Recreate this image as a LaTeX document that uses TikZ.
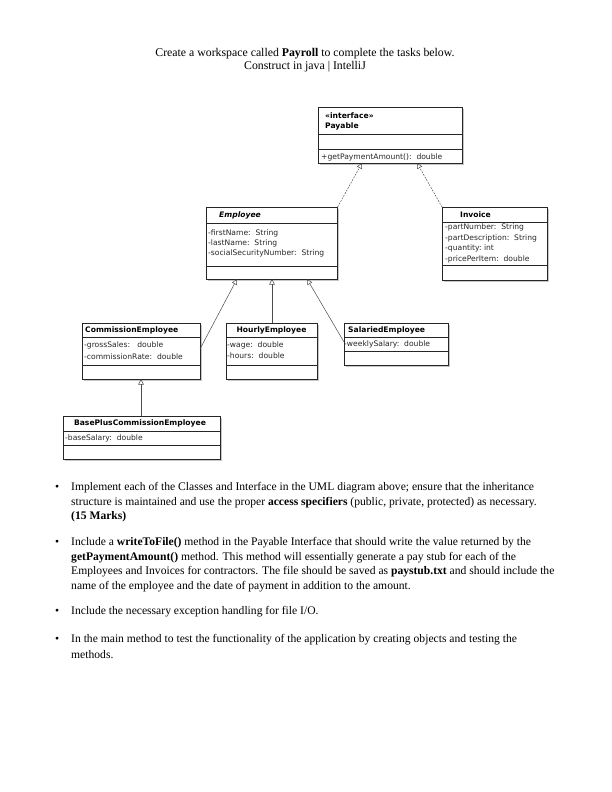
\documentclass[tikz,border=0pt]{standalone}
\usepackage{fontspec}
\setmainfont{Liberation Serif}
\newfontfamily\umlfont{DejaVu Sans}
\usetikzlibrary{arrows.meta}
\tikzset{
  umlbox/.style={draw=black!85, line width=0.6pt, fill=white, inner sep=0pt, anchor=north west},
  sepline/.style={draw=black!85, line width=0.6pt},
  umltxt/.style={font=\umlfont\fontsize{7.6}{8}\selectfont, anchor=west, inner sep=0pt, text=black!85},
  umlname/.style={font=\umlfont\bfseries\fontsize{7.6}{8}\selectfont, anchor=west, inner sep=0pt},
  inherit/.style={draw=black!70, line width=0.5pt, -{Triangle[open, length=5.5pt, width=5.5pt]}},
  realize/.style={inherit, dash pattern=on 1.8pt off 1.2pt},
  para/.style={font=\fontsize{11.6}{13}\selectfont, anchor=west, inner sep=0pt},
  head/.style={font=\fontsize{11.8}{13}\selectfont, inner sep=0pt},
}
\begin{document}
\begin{tikzpicture}[x=1pt,y=-1pt]
\useasboundingbox (0,0) rectangle (612,792);
\fill[white] (0,0) rectangle (612,792);

% heading
\node[head] (h1) at (305,54) {Create a workspace called \textbf{Payroll} to complete the tasks below.};
\node[head] (h2) at (305,67) {Construct in java | IntelliJ};

% Payable
\fill[black!22] (320,109) rectangle (464,165);
\node[umlbox, minimum width=144pt, minimum height=56pt] (payable) at (318,107) {};
\draw[sepline] (318,134) -- (462,134);
\draw[sepline] (318,149) -- (462,149);
\node[umlname] (payst) at (325,116) {«interface»};
\node[umlname] (payname) at (325,126) {Payable};
\node[umltxt] (paym) at (321,157) {+getPaymentAmount():\ \ double};

% Employee
\fill[black!22] (208,209) rectangle (339,281);
\node[umlbox, minimum width=131pt, minimum height=72pt] (employee) at (206,207) {};
\draw[sepline] (206,223) -- (337,223);
\draw[sepline] (206,266) -- (337,266);
\node[umlname, font=\umlfont\bfseries\itshape\fontsize{7.6}{8}\selectfont] (empname) at (219,215) {Employee};
\node[umltxt] (e1) at (208,233) {-firstName:\ \ String};
\node[umltxt] (e2) at (208,243) {-lastName:\ \ String};
\node[umltxt] (e3) at (208,253) {-socialSecurityNumber:\ \ String};

% Invoice
\fill[black!22] (444,209) rectangle (549,282);
\node[umlbox, minimum width=105pt, minimum height=73pt] (invoice) at (442,207) {};
\draw[sepline] (442,222) -- (547,222);
\draw[sepline] (442,265) -- (547,265);
\node[umlname] (invname) at (460,215) {Invoice};
\node[umltxt] (i1) at (445,227) {-partNumber:\ \ String};
\node[umltxt] (i2) at (445,238) {-partDescription:\ \ String};
\node[umltxt] (i3) at (445,248) {-quantity:\ int};
\node[umltxt] (i4) at (445,259) {-pricePerItem:\ \ double};

% CommissionEmployee
\fill[black!22] (84,325) rectangle (202,381);
\node[umlbox, minimum width=118pt, minimum height=56pt] (commission) at (82,323) {};
\draw[sepline] (82,337) -- (200,337);
\draw[sepline] (82,365) -- (200,365);
\node[umlname] (comname) at (85,330) {CommissionEmployee};
\node[umltxt] (c1) at (84,345) {-grossSales:\ \ \ double};
\node[umltxt] (c2) at (84,357) {-commissionRate:\ \ double};

% HourlyEmployee
\fill[black!22] (228,325) rectangle (319,381);
\node[umlbox, minimum width=91pt, minimum height=56pt] (hourly) at (226,323) {};
\draw[sepline] (226,337) -- (317,337);
\draw[sepline] (226,365) -- (317,365);
\node[umlname, anchor=center] (hourname) at (271.5,330) {HourlyEmployee};
\node[umltxt] (h1a) at (227,345) {-wage:\ \ double};
\node[umltxt] (h2a) at (227,356) {-hours:\ \ double};

% SalariedEmployee
\fill[black!22] (346,325) rectangle (450,367);
\node[umlbox, minimum width=104pt, minimum height=42pt] (salaried) at (344,323) {};
\draw[sepline] (344,337) -- (448,337);
\draw[sepline] (344,351) -- (448,351);
\node[umlname] (salname) at (348,330) {SalariedEmployee};
\node[umltxt] (s1) at (344,344) {-weeklySalary:\ \ double};

% BasePlusCommissionEmployee
\fill[black!22] (65,418) rectangle (222,461);
\node[umlbox, minimum width=157pt, minimum height=43pt] (baseplus) at (63,416) {};
\draw[sepline] (63,431) -- (220,431);
\draw[sepline] (63,445) -- (220,445);
\node[umlname, anchor=center] (bpname) at (140,423.5) {BasePlusCommissionEmployee};
\node[umltxt] (b1) at (65,438) {-baseSalary:\ \ double};

% connectors
\coordinate (empA) at (237,279);
\coordinate (empB) at (272,279);
\coordinate (empC) at (307,279);
\coordinate (comIn) at (200,349);
\coordinate (salIn) at (344,342);
\coordinate (payA) at (362,163);
\coordinate (payB) at (417,163);
\coordinate (comBot) at (141,379);
\draw[inherit] (comIn) -- (empA);
\draw[inherit] (hourly.north -| empB) -- (empB);
\draw[inherit] (salIn) -- (empC);
\draw[inherit] (baseplus.north -| comBot) -- (comBot);
\draw[realize] (employee.north east) -- (payA);
\draw[realize] (invoice.north west) -- (payB);

% bullets
\node[para] (b1dot) at (55,488) {•};
\node[para] (p1a) at (71,488) {Implement each of the Classes and Interface in the UML diagram above; ensure that the inheritance};
\node[para] (p1b) at (71,502.5) {structure is maintained and use the proper \textbf{access specifiers} (public, private, protected) as necessary.};
\node[para] (p1c) at (71,517) {\textbf{(15 Marks)}};

\node[para] (b2dot) at (55,543) {•};
\node[para] (p2a) at (71,543) {Include a \textbf{writeToFile()} method in the Payable Interface that should write the value returned by the};
\node[para] (p2b) at (71,557.5) {\textbf{getPaymentAmount()} method. This method will essentially generate a pay stub for each of the};
\node[para] (p2c) at (71,572) {Employees and Invoices for contractors. The file should be saved as \textbf{paystub.txt} and should include the};
\node[para] (p2d) at (71,586.5) {name of the employee and the date of payment in addition to the amount.};

\node[para] (b3dot) at (55,612) {•};
\node[para] (p3a) at (71,612) {Include the necessary exception handling for file I/O.};

\node[para] (b4dot) at (55,640) {•};
\node[para] (p4a) at (71,640) {In the main method to test the functionality of the application by creating objects and testing the};
\node[para] (p4b) at (71,654.5) {methods.};
\end{tikzpicture}
\end{document}
